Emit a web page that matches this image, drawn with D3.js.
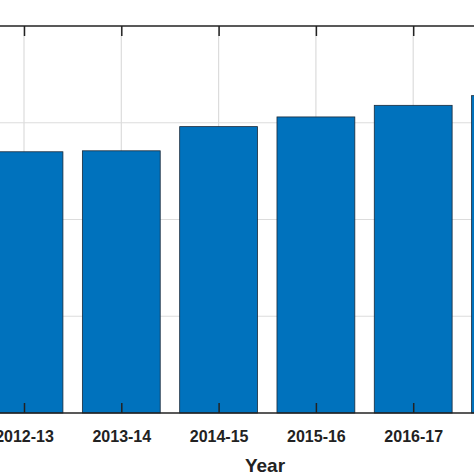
<!DOCTYPE html>
<html lang="en">
<head>
<meta charset="UTF-8">
<script src="https://d3js.org/d3.v7.min.js"></script>
<style>
  body { margin: 0; background: #fff; }
  svg { display: block; }
  .tick text { font: bold 16px "Liberation Sans", Arial, sans-serif; fill: #222; }
</style>
</head>
<body>
<div id="chart"></div>
<script>
// Values (y axis labels are cropped out)
const years = ["2012-13", "2013-14", "2014-15", "2015-16", "2016-17", "2017-18"];
const values = [2.70, 2.71, 2.96, 3.06, 3.18, 3.28];
const yTicks = [0, 1, 2, 3, 4];

const width = 474, height = 474;
const plotTop = 26, plotBottom = 413;

const svg = d3.select("#chart").append("svg")
    .attr("width", width)
    .attr("height", height);

// category centers sit 97.3px apart, first one partly off the left edge
const x = d3.scalePoint().domain(years).range([24, 24 + 97.3 * (years.length - 1)]);
const barW = x.step() * 0.8;
const y = d3.scaleLinear().domain([0, 4]).range([plotBottom, plotTop]);

// grid
svg.append("g").selectAll("line")
    .data(years).enter().append("line")
    .attr("x1", d => x(d)).attr("x2", d => x(d))
    .attr("y1", plotTop).attr("y2", plotBottom)
    .attr("stroke", "#dcdcdc").attr("stroke-width", 1.2);
svg.append("g").selectAll("line")
    .data(yTicks.slice(1, -1)).enter().append("line")
    .attr("x1", 0).attr("x2", width)
    .attr("y1", d => y(d)).attr("y2", d => y(d))
    .attr("stroke", "#dcdcdc").attr("stroke-width", 1.2);

// bars
svg.append("g").selectAll("rect")
    .data(values).enter().append("rect")
    .attr("x", (d, i) => x(years[i]) - barW / 2)
    .attr("width", barW)
    .attr("y", d => y(d))
    .attr("height", d => y(0) - y(d))
    .attr("fill", "#0072BD")
    .attr("stroke", "#1a2a3a")
    .attr("stroke-width", 0.8);

// bottom axis with inward ticks
const xAxis = svg.append("g")
    .attr("transform", `translate(0,${plotBottom})`)
    .call(d3.axisBottom(x).tickSizeInner(-10).tickSizeOuter(0).tickPadding(18));
xAxis.select(".domain").attr("stroke", "#222").attr("stroke-width", 1.5)
    .attr("d", `M0,0H${width}`);
xAxis.selectAll(".tick line").attr("stroke", "#222").attr("stroke-width", 1.5);

// top box edge with inward ticks
const topAxis = svg.append("g")
    .attr("transform", `translate(0,${plotTop})`)
    .call(d3.axisTop(x).tickSizeInner(-10).tickSizeOuter(0).tickFormat(""));
topAxis.select(".domain").attr("stroke", "#222").attr("stroke-width", 1.5)
    .attr("d", `M0,0H${width}`);
topAxis.selectAll(".tick line").attr("stroke", "#222").attr("stroke-width", 1.5);

svg.append("text")
    .attr("x", 265).attr("y", 472)
    .attr("text-anchor", "middle")
    .style("font", "bold 19px 'Liberation Sans', Arial, sans-serif")
    .attr("fill", "#222")
    .text("Year");
</script>
</body>
</html>
